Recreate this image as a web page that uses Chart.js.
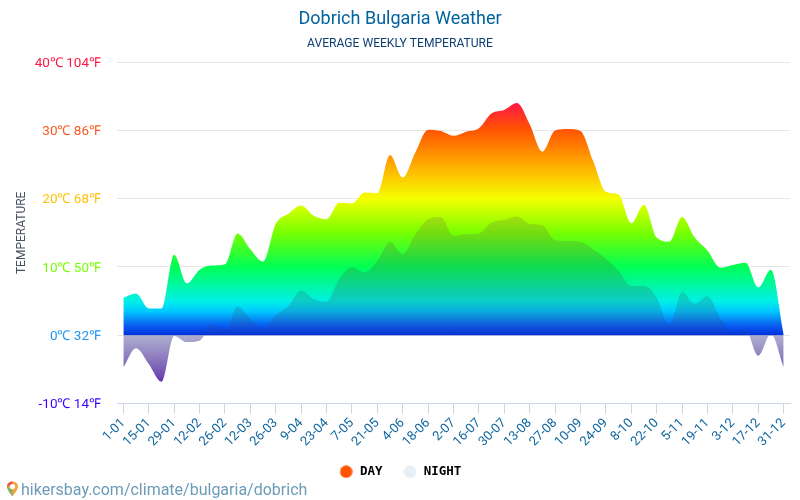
<!DOCTYPE html>
<html lang="en">
<head>
  <meta charset="UTF-8">
  <title>Dobrich Bulgaria Weather</title>
  <script src="https://cdn.jsdelivr.net/npm/chart.js@4.4.1/dist/chart.umd.min.js"></script>
  <style>
    html, body { margin: 0; padding: 0; background: #fff; }
    #wrap { position: relative; width: 800px; height: 500px; overflow: hidden; }
    #source { position: absolute; left: 21px; top: 480px; font: 16px Roboto, sans-serif; color: #6c9bb8; white-space: nowrap; }
    #pin { position: absolute; left: 6px; top: 481px; }
  </style>
</head>
<body>

<div id="wrap">
  <canvas id="chart" width="800" height="500"></canvas>
  <svg id="pin" width="13" height="16" viewBox="0 0 13 16">
    <path d="M6.5 0.5C3 0.5 1 3 1 5.6 1 9 4.6 12.6 6.5 15.5 8.4 12.6 12 9 12 5.6 12 3 10 0.5 6.5 0.5Z" fill="#f4a340"/>
    <path d="M1 5.6C1 9 4.6 12.6 6.5 15.5L6.5 9Z" fill="#7cb56a"/>
    <path d="M6.5 .5C3 .5 1 3 1 5.6L6.5 4Z" fill="#e8584a"/>
    <circle cx="6.5" cy="5.6" r="2.6" fill="#fff"/>
  </svg>
  <div id="source">hikersbay.com/climate/bulgaria/dobrich</div>
</div>

<script>
  const weeks = ['1-01','8-01','15-01','22-01','29-01','5-02','12-02','19-02','26-02','5-03','12-03','19-03','26-03',
    '2-04','9-04','16-04','23-04','30-04','7-05','14-05','21-05','28-05','4-06','11-06','18-06','25-06',
    '2-07','9-07','16-07','23-07','30-07','6-08','13-08','20-08','27-08','3-09','10-09','17-09','24-09',
    '1-10','8-10','15-10','22-10','29-10','5-11','12-11','19-11','26-11','3-12','10-12','17-12','24-12','31-12'];

  const dayTemps = [5.5,6.1,3.9,3.9,11.8,7.6,9.6,10.2,10.4,14.9,12.6,10.8,16.3,
    17.8,19.0,17.5,17.0,19.4,19.3,20.9,20.8,26.4,23.1,26.8,30.1,29.9,
    29.2,29.8,30.3,32.5,33.0,34.0,30.9,26.9,30.0,30.2,29.9,25.5,21.0,
    20.6,16.4,19.1,14.3,13.7,17.3,14.3,12.4,9.9,10.3,10.6,7.0,9.6,0.2];

  const nightTemps = [-4.7,-1.9,-4.2,-6.8,-0.1,-1.0,-0.8,1.6,0.6,4.2,2.4,1.0,2.9,
    4.3,6.5,5.3,4.9,8.2,10.0,9.2,10.9,13.7,11.9,14.8,17.0,17.3,
    14.6,14.8,14.9,16.5,16.9,17.4,16.3,16.1,13.9,13.8,13.7,12.6,11.2,
    9.4,7.2,7.2,5.5,1.5,6.3,4.6,5.7,2.6,0.1,0.8,-3.0,0.2,-4.7];

  const yTickLabels = { '40':'40℃ 104℉', '30':'30℃ 86℉', '20':'20℃ 68℉', '10':'10℃ 50℉', '0':'0℃ 32℉', '-10':'-10℃ 14℉' };
  const yTickColors = { '40':'#ff1744', '30':'#ff5722', '20':'#ffc107', '10':'#76ff03', '0':'#2196f3', '-10':'#3d00ff' };

  const dayStops = [[40,'#ff0a54'],[34,'#ff1744'],[30,'#ff5500'],[25,'#ffaa00'],[20,'#f5ff00'],[15,'#77ff00'],
    [10,'#00ff55'],[5,'#00f0e6'],[3.5,'#00c8ff'],[1.5,'#0a60f0'],[0,'#0030dc']];
  const nightStops = [[18,'rgba(120,110,70,.22)'],[10,'rgba(70,70,60,.2)'],[3,'rgba(50,60,90,.2)'],
    [0,'rgba(60,60,140,.12)'],[-0.01,'rgba(120,120,175,.6)'],[-7,'rgba(90,40,165,.95)']];

  function fillFrom(stops) {
    return ctx => {
      const { chart } = ctx;
      if (!chart.chartArea) return 'transparent';
      const y = chart.scales.y;
      const top = y.getPixelForValue(stops[0][0]), bottom = y.getPixelForValue(stops[stops.length-1][0]);
      const g = chart.ctx.createLinearGradient(0, top, 0, bottom);
      stops.forEach(s => g.addColorStop((y.getPixelForValue(s[0]) - top) / (bottom - top), s[1]));
      return g;
    };
  }

  // legend marker as a small canvas so the gap to the text can be set with pointStyleWidth
  function legendDot(color) {
    const c = document.createElement('canvas');
    c.width = c.height = 13;
    const g = c.getContext('2d');
    g.fillStyle = color;
    g.beginPath(); g.arc(6.5, 6.5, 6.2, 0, Math.PI * 2); g.fill();
    return c;
  }

  new Chart(document.getElementById('chart'), {
    type: 'line',
    data: {
      labels: weeks,
      datasets: [
        { label: 'NIGHT', data: nightTemps, backgroundColor: fillFrom(nightStops), order: 1 },
        { label: 'DAY', data: dayTemps, backgroundColor: fillFrom(dayStops), order: 2 }
      ].map(d => ({ ...d, fill: 'origin', borderWidth: 0, pointRadius: 0, cubicInterpolationMode: 'monotone' }))
    },
    options: {
      responsive: false,
      animation: false,
      layout: { padding: { top: 0, bottom: 12, left: 10, right: 10 } },
      plugins: {
        tooltip: { enabled: false },
        title: { display: true, text: 'Dobrich Bulgaria Weather', color: '#01629f',
                 font: { family: 'Roboto', size: 18, weight: 'normal' }, padding: { top: 9, bottom: 6 } },
        subtitle: { display: true, text: 'AVERAGE WEEKLY TEMPERATURE', color: '#0d3f72',
                    font: { family: 'Roboto', size: 12.1, weight: 'normal' }, padding: { top: 0, bottom: 11 } },
        legend: {
          position: 'bottom',
          labels: {
            usePointStyle: true, pointStyleWidth: 15, boxHeight: 12.5, padding: 20,
            color: '#333340', font: { family: 'DejaVu Sans Mono', size: 12.5, weight: 'bold' },
            generateLabels: () => [
              { text: 'DAY', pointStyle: legendDot('#ff5500'), lineWidth: 0, datasetIndex: 1 },
              { text: 'NIGHT', pointStyle: legendDot('#e6eef6'), lineWidth: 0, datasetIndex: 0 }
            ]
          }
        }
      },
      scales: {
        x: {
          offset: true,
          border: { color: '#ccd6eb' },
          grid: { drawOnChartArea: false, offset: false, color: '#ccd6eb', tickLength: 10 },
          afterFit: s => { s.height = 42; },
          ticks: {
            autoSkip: false, maxRotation: 45, minRotation: 45, padding: 2,
            color: '#0f659f', font: { family: 'Roboto', size: 13 },
            callback: function (v, i) { return i % 2 === 0 ? weeks[i] : null; }
          }
        },
        y: {
          min: -10, max: 40,
          afterFit: s => { s.width = 107; },
          border: { display: false },
          title: { display: true, text: 'TEMPERATURE', color: '#4a5064', font: { family: 'Roboto', size: 12 }, padding: { top: 5, bottom: 0 } },
          grid: { color: '#e6e6e6', drawTicks: false },
          ticks: {
            stepSize: 10, padding: 16,
            // empty first line + tiny line height nudges the text down to sit on the grid line
            font: { family: 'Roboto', size: 13.5, lineHeight: 0.2 },
            color: ctx => yTickColors[ctx.tick.value],
            callback: v => ['', yTickLabels[v]]
          }
        }
      }
    }
  });
</script>

</body>
</html>
